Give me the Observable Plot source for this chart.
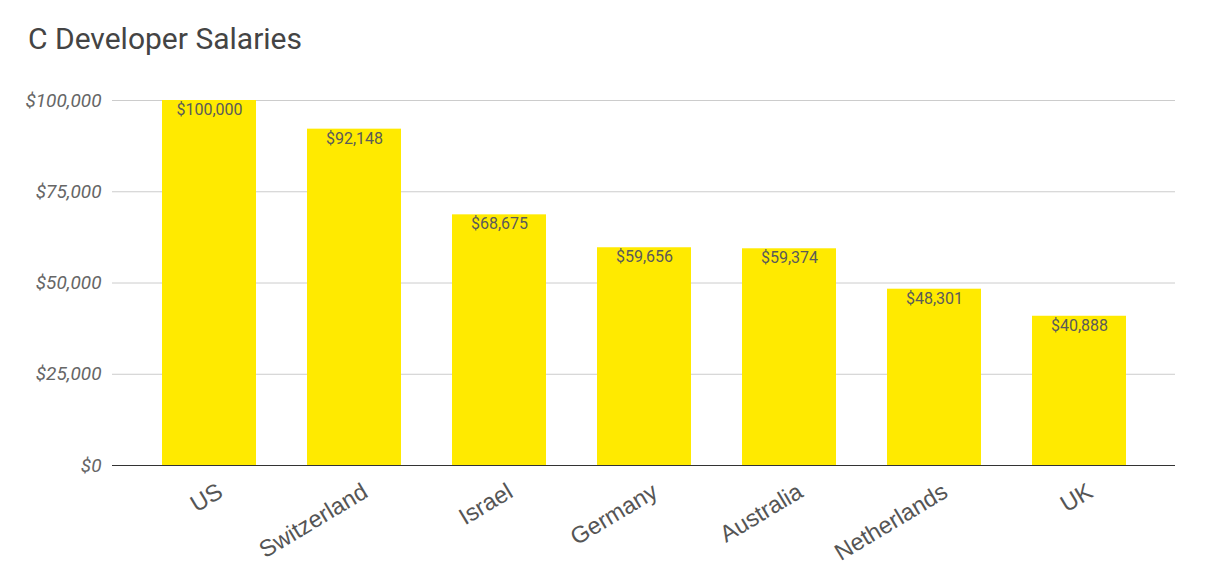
<!DOCTYPE html>
<html>
<head>
<meta charset="utf-8">
<script src="https://cdn.jsdelivr.net/npm/d3@7"></script>
<script src="https://cdn.jsdelivr.net/npm/@observablehq/plot@0.6"></script>
<style>
  html, body { margin: 0; padding: 0; background: #fff; }
  #wrap { width: 1207px; height: 573px; position: relative; font-family: Roboto, "Noto Sans", sans-serif; }
  #title { position: absolute; left: 28px; top: 21px; font-size: 30px; line-height: 35px; color: #444; font-family: Roboto, sans-serif; }
  #chart { position: absolute; left: 0; top: 70px; }
</style>
</head>
<body>
<div id="wrap">
  <div id="title">C Developer Salaries</div>
  <div id="chart"></div>
</div>
<script>
const countries = ["US", "Switzerland", "Israel", "Germany", "Australia", "Netherlands", "UK"];
const salaries = [100000, 92148, 68675, 59656, 59374, 48301, 40888];
const yTicks = [0, 25000, 50000, 75000, 100000];

const data = countries.map((c, i) => ({country: c, salary: salaries[i]}));
const fmt = d3.format("$,");

const plot = Plot.plot({
  width: 1207,
  height: 503,
  marginLeft: 112,
  marginRight: 32,
  marginTop: 30,
  marginBottom: 108,
  style: {fontFamily: "Roboto, sans-serif", background: "transparent"},
  x: {domain: countries, paddingInner: 0.352, paddingOuter: 0.34, axis: null},
  y: {domain: [0, 100000], axis: null},
  marks: [
    Plot.ruleY(yTicks.filter(d => d > 0), {stroke: "#cccccc", strokeWidth: 1}),
    Plot.text(yTicks, {
      y: d => d, text: d => fmt(d), frameAnchor: "left", textAnchor: "end", dx: -11,
      fontSize: 19, fontStyle: "italic", fill: "#666"
    }),
    Plot.barY(data, {x: "country", y: "salary", fill: "#ffea00"}),
    Plot.ruleY([0], {stroke: "#333", strokeWidth: 1}),
    Plot.text(data, {
      x: "country", y: "salary", text: d => fmt(d.salary), lineAnchor: "top", dy: 3,
      fontSize: 16, fill: "#5a5a5a"
    }),
    Plot.text(data, {
      x: "country", y: () => 0, text: "country", rotate: -31, textAnchor: "end",
      dx: 11, dy: 24, fontSize: 23.5, fill: "#555", fontFamily: "'Liberation Sans', Arial, sans-serif"
    })
  ]
});
document.getElementById("chart").appendChild(plot);
</script>
</body>
</html>
